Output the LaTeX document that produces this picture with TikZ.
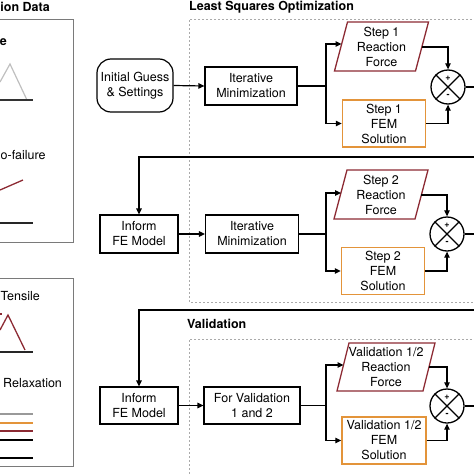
\documentclass[tikz,border=0pt]{standalone}
\usepackage{fontspec}
\setmainfont{TeX Gyre Heros}
\usetikzlibrary{arrows.meta,calc}
\definecolor{dred}{HTML}{8C2A33}
\definecolor{forange}{HTML}{E3943A}
\definecolor{dashgrey}{HTML}{AAAAAA}
\definecolor{panelgrey}{HTML}{7A7A7A}
\begin{document}
\begin{tikzpicture}[x=1pt,y=-1pt,
  txt/.style={font=\fontsize{12.5}{15}\selectfont, align=center, inner sep=0pt},
  boxn/.style={txt, draw, line width=1.2pt},
  femn/.style={txt, draw=forange, line width=1.4pt, minimum width=83pt, minimum height=47pt},
  paran/.style={draw=dred, line width=1.3pt},
  ttl/.style={font=\fontsize{12.5}{15}\selectfont\bfseries, inner sep=0pt},
  lbl/.style={font=\fontsize{12.5}{15}\selectfont, inner sep=0pt},
  conn/.style={line width=1.2pt},
  arr/.style={line width=1.2pt, -{Triangle[length=6pt,width=5.5pt]}},
  fb/.style={line width=1.6pt},
  sumn/.style={circle, draw, line width=1.3pt, minimum size=34pt, inner sep=0pt},
  sign/.style={font=\fontsize{9}{10}\selectfont\bfseries, inner sep=0pt},
  dbox/.style={draw=dashgrey, line width=1pt, dash pattern=on 2pt off 2pt},
  pbox/.style={draw=panelgrey, line width=1pt}
]
\useasboundingbox (0,0) rectangle (474,474);

% ---------- left panel ----------
\node[ttl, anchor=east] (tcal) at (50,7) {ion Data};
\draw[pbox] (-2,19) rectangle (73,242);
\node[ttl, anchor=east] (tshape) at (7,42) {e};
\draw[line width=1.2pt, black!25] (0,82) -- (10,64) -- (27,100);
\draw[line width=1.5pt, black!80] (0,100) -- (33,100);
\node[lbl, anchor=west] (tfail) at (0.5,155) {o-failure};
\draw[line width=1.3pt, dred] (0,190) -- (23,180);
\draw[line width=1.5pt, black!85] (0,223) -- (33,223);

\draw[pbox] (-2,278) rectangle (73,466);
\node[lbl, anchor=west] (ttens) at (0.5,296) {Tensile};
\draw[line width=1.3pt, dred] (-1,314) -- (2,314);
\draw[line width=1.3pt, dred] (0,330) -- (8,315) -- (25,350);
\draw[line width=1.5pt, black!85] (0,352) -- (33,352);
\node[lbl, anchor=west] (trelax) at (3,383) {Relaxation};
\draw[line width=1.5pt, black!40] (0,414) -- (33,414);
\draw[line width=1.5pt, forange] (0,423) -- (33,423);
\draw[line width=1.5pt, dred] (0,431) -- (33,431);
\draw[line width=1.5pt, black] (0,440) -- (33,440);
\draw[line width=1.5pt, black] (0,458) -- (33,458);

% ---------- dashed frames ----------
\node[ttl, anchor=west] (tlso) at (189,7) {Least Squares Optimization};
\draw[dbox] (480,19) -- (189,19) -- (189,302) -- (480,302);
\node[ttl, anchor=west] (tval) at (187,324) {Validation};
\draw[dbox] (480,339) -- (189,339) -- (189,476);

% ---------- row 1 ----------
\node[boxn, rounded corners=14pt, minimum width=76pt, minimum height=53pt] (init) at (135,85.5) {Initial Guess\\\& Settings};
\node[boxn, minimum width=92pt, minimum height=38pt] (it1) at (251,86) {Iterative\\Minimization};
\node[txt] (rf1) at (381.5,46.5) {Step 1\\Reaction\\Force};
\draw[paran] ($(rf1)+(-34,-24.5)$) -- ($(rf1)+(47,-24.5)$) -- ($(rf1)+(34,24.5)$) -- ($(rf1)+(-47,24.5)$) -- cycle;
\coordinate (rf1in) at ($(rf1)+(-40,-2.5)$);
\coordinate (rf1out) at ($(rf1)+(40.4,0.5)$);
\node[femn] (fem1) at (384,123.5) {Step 1\\FEM\\Solution};
\node[sumn] (sum1) at (448,87) {};
\coordinate (b1) at (326,86);
\coordinate (o1) at (480,87);

\draw[arr] (init.east) -- (it1.west);
\draw[conn] (it1.east) -- (b1);
\draw[arr] (b1) |- (rf1in);
\draw[arr] (b1) |- (fem1.west);
\draw[arr] (rf1out) -| (sum1.north);
\draw[arr] (fem1.east) -| (sum1.south);
\draw[conn] (sum1.east) -- (o1);

% ---------- feedback 1 ----------
\node[boxn, minimum width=78pt, minimum height=38pt] (inf2) at (139,234) {Inform\\FE Model};
\coordinate (f1) at (480,157);
\draw[fb, -{Triangle[length=6pt,width=5.5pt]}] (f1) -| (inf2.north);

% ---------- row 2 ----------
\node[boxn, minimum width=93pt, minimum height=38pt] (it2) at (252,234) {Iterative\\Minimization};
\node[txt] (rf2) at (381,194.5) {Step 2\\Reaction\\Force};
\draw[paran] ($(rf2)+(-34,-24.5)$) -- ($(rf2)+(47,-24.5)$) -- ($(rf2)+(34,24.5)$) -- ($(rf2)+(-47,24.5)$) -- cycle;
\coordinate (rf2in) at ($(rf2)+(-40,-1.5)$);
\coordinate (rf2out) at ($(rf2)+(40.4,0.5)$);
\node[femn] (fem2) at (383,271) {Step 2\\FEM\\Solution};
\node[sumn] (sum2) at (447,234) {};
\coordinate (b2) at (326,234);
\coordinate (o2) at (480,234);

\draw[arr] (inf2.east) -- (it2.west);
\draw[conn] (it2.east) -- (b2);
\draw[arr] (b2) |- (rf2in);
\draw[arr] (b2) |- (fem2.west);
\draw[arr] (rf2out) -| (sum2.north);
\draw[arr] (fem2.east) -| (sum2.south);
\draw[conn] (sum2.east) -- (o2);

% ---------- feedback 2 ----------
\node[boxn, minimum width=78pt, minimum height=37pt] (inf3) at (139,405.5) {Inform\\FE Model};
\coordinate (f2) at (480,310);
\draw[fb, -{Triangle[length=6pt,width=5.5pt]}] (f2) -| (inf3.north);

% ---------- row 3 ----------
\node[boxn, minimum width=96pt, minimum height=37pt] (val) at (252,405.5) {For Validation\\1 and 2};
\node[txt] (rf3) at (386,367) {Validation 1/2\\Reaction\\Force};
\draw[paran] ($(rf3)+(-37,-24)$) -- ($(rf3)+(49,-24)$) -- ($(rf3)+(37,24)$) -- ($(rf3)+(-49,24)$) -- cycle;
\coordinate (rf3in) at ($(rf3)+(-42.5,-2)$);
\coordinate (rf3out) at ($(rf3)+(43,0)$);
\node[femn, minimum width=84pt] (fem3) at (384,440.5) {Validation 1/2\\FEM\\Solution};
\node[sumn] (sum3) at (447,406) {};
\coordinate (b3) at (326,405.5);
\coordinate (o3) at (480,406);

\draw[arr] (inf3.east) -- (val.west);
\draw[conn] (val.east) -- (b3);
\draw[arr] (b3) |- (rf3in);
\draw[arr] (b3) |- (fem3.west);
\draw[arr] (rf3out) -| (sum3.north);
\draw[arr] (fem3.east) -| (sum3.south);
\draw[conn] (sum3.east) -- (o3);

% ---------- summation signs ----------
\foreach \s in {sum1,sum2,sum3}{
  \draw[line width=1.2pt] (\s.north west) -- (\s.south east);
  \draw[line width=1.2pt] (\s.north east) -- (\s.south west);
  \node[sign] at ($(\s.center)+(0,-9)$) {+};
  \node[sign] at ($(\s.center)+(0,9)$) {-};
}
\end{tikzpicture}
\end{document}
